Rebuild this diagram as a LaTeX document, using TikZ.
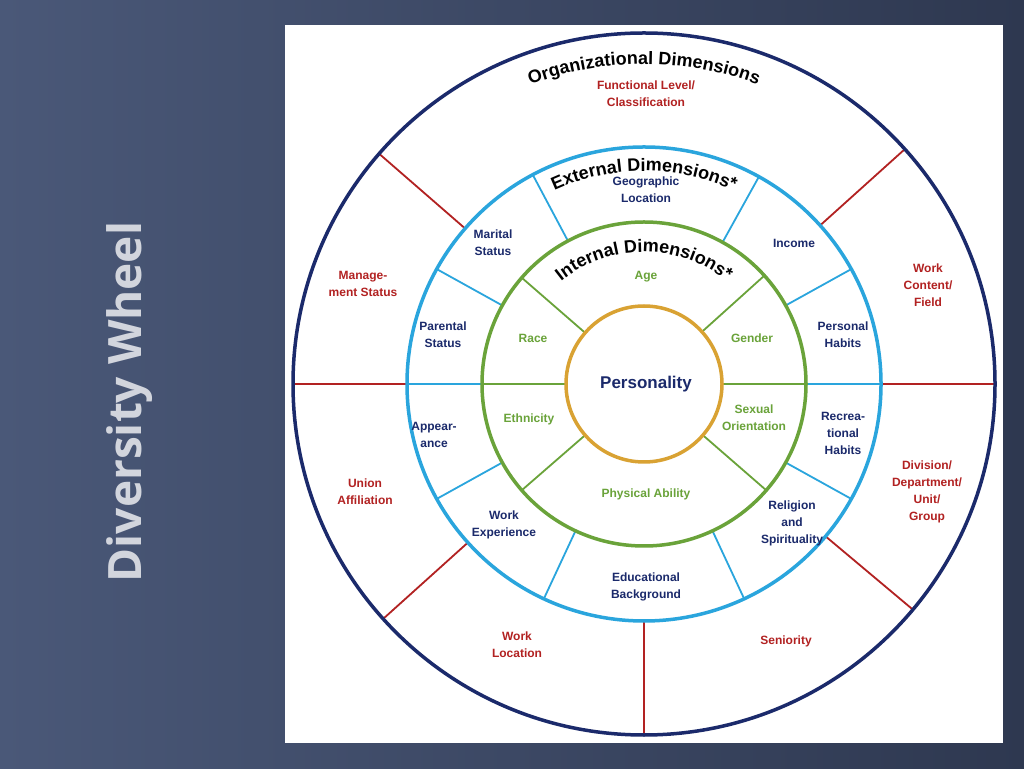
\documentclass[tikz,border=0pt]{standalone}
\usepackage{fontspec}
\setmainfont{Liberation Sans}
\newfontfamily\titlefont{Open Sans}
\usetikzlibrary{decorations.text,calc}
\definecolor{navy}{HTML}{1B2A6B}
\definecolor{lblue}{HTML}{2AA5DD}
\definecolor{grn}{HTML}{6AA33A}
\definecolor{org}{HTML}{D9A233}
\definecolor{dred}{HTML}{B22222}
\definecolor{bgA}{HTML}{4A5878}
\definecolor{bgB}{HTML}{2E3850}
\begin{document}
\begin{tikzpicture}[x=1pt,y=1pt,
  lab/.style={font=\bfseries\fontsize{12}{17}\selectfont,align=center,inner sep=0pt},
  olab/.style={lab,text=dred},
  elab/.style={lab,text=navy},
  ilab/.style={lab,text=grn},
  redl/.style={draw=dred,line width=1.8pt},
  bluel/.style={draw=lblue,line width=1.8pt},
  grnl/.style={draw=grn,line width=1.8pt}]
\useasboundingbox (0,0) rectangle (1024,768);
\shade[left color=bgA,right color=bgB] (0,0) rectangle (1024,768);
\fill[white] (285,25) rectangle (1003,743);
\node[rotate=90,text=white!75!bgA,font=\titlefont\bfseries\fontsize{46}{50}\selectfont] (title) at (130,366) {Diversity Wheel};
\coordinate (C) at (644,384);
% radial lines
\foreach \a in {0,42,139,180,222,270,320} \draw[redl] ($(C)+(\a:237)$) -- ($(C)+(\a:351)$);
\foreach \a in {0,29,61,118,151,180,209,245,295,331} \draw[bluel] ($(C)+(\a:162)$) -- ($(C)+(\a:237)$);
\foreach \a in {0,42,139,180,221,319} \draw[grnl] ($(C)+(\a:78)$) -- ($(C)+(\a:162)$);
% circles
\draw[navy,line width=3.5pt] (C) circle[radius=351];
\draw[lblue,line width=3.5pt] (C) circle[radius=237];
\draw[grn,line width=3.5pt] (C) circle[radius=162];
\draw[org,line width=3.5pt] (C) circle[radius=78];
% curved titles
\path[decorate,decoration={text along path,text align=center,text={|\bfseries\fontsize{18}{20}\selectfont|Organizational Dimensions}}]
  ($(C)+(125:320)$) arc[start angle=125,end angle=55,radius=320];
\path[decorate,decoration={text along path,text align=center,text={|\bfseries\fontsize{18}{20}\selectfont|External Dimensions*}}]
  ($(C)+(125:213)$) arc[start angle=125,end angle=55,radius=213];
\path[decorate,decoration={text along path,text align=center,text={|\bfseries\fontsize{18}{20}\selectfont|Internal Dimensions*}}]
  ($(C)+(140:132)$) arc[start angle=140,end angle=40,radius=132];
% organizational
\node[olab] (o1) at (646,674) {Functional Level/\\Classification};
\node[olab] (o2) at (928,483) {Work\\Content/\\Field};
\node[olab] (o3) at (927,276) {Division/\\Department/\\Unit/\\Group};
\node[olab] (o4) at (786,127) {Seniority};
\node[olab] (o5) at (517,123) {Work\\Location};
\node[olab] (o6) at (365,276) {Union\\Affiliation};
\node[olab] (o7) at (363,484) {Manage-\\ment Status};
% external
\node[elab] (e1) at (646,578) {Geographic\\Location};
\node[elab] (e2) at (794,525) {Income};
\node[elab] (e3) at (843,433) {Personal\\Habits};
\node[elab] (e4) at (843,335) {Recrea-\\tional\\Habits};
\node[elab] (e5) at (792,245) {Religion\\and\\Spirituality};
\node[elab] (e6) at (646,181) {Educational\\Background};
\node[elab] (e7) at (504,243) {Work\\Experience};
\node[elab] (e8) at (434,333) {Appear-\\ance};
\node[elab] (e9) at (443,433) {Parental\\Status};
\node[elab] (e10) at (493,525) {Marital\\Status};
% internal
\node[ilab] (i1) at (646,491) {Age};
\node[ilab] (i2) at (752,430) {Gender};
\node[ilab] (i3) at (754,350) {Sexual\\Orientation};
\node[ilab] (i4) at (646,274) {Physical Ability};
\node[ilab] (i5) at (529,349) {Ethnicity};
\node[ilab] (i6) at (533,430) {Race};
\node[lab,text=navy,font=\bfseries\fontsize{17}{20}\selectfont] (p) at (646,384) {Personality};
\end{tikzpicture}
\end{document}
